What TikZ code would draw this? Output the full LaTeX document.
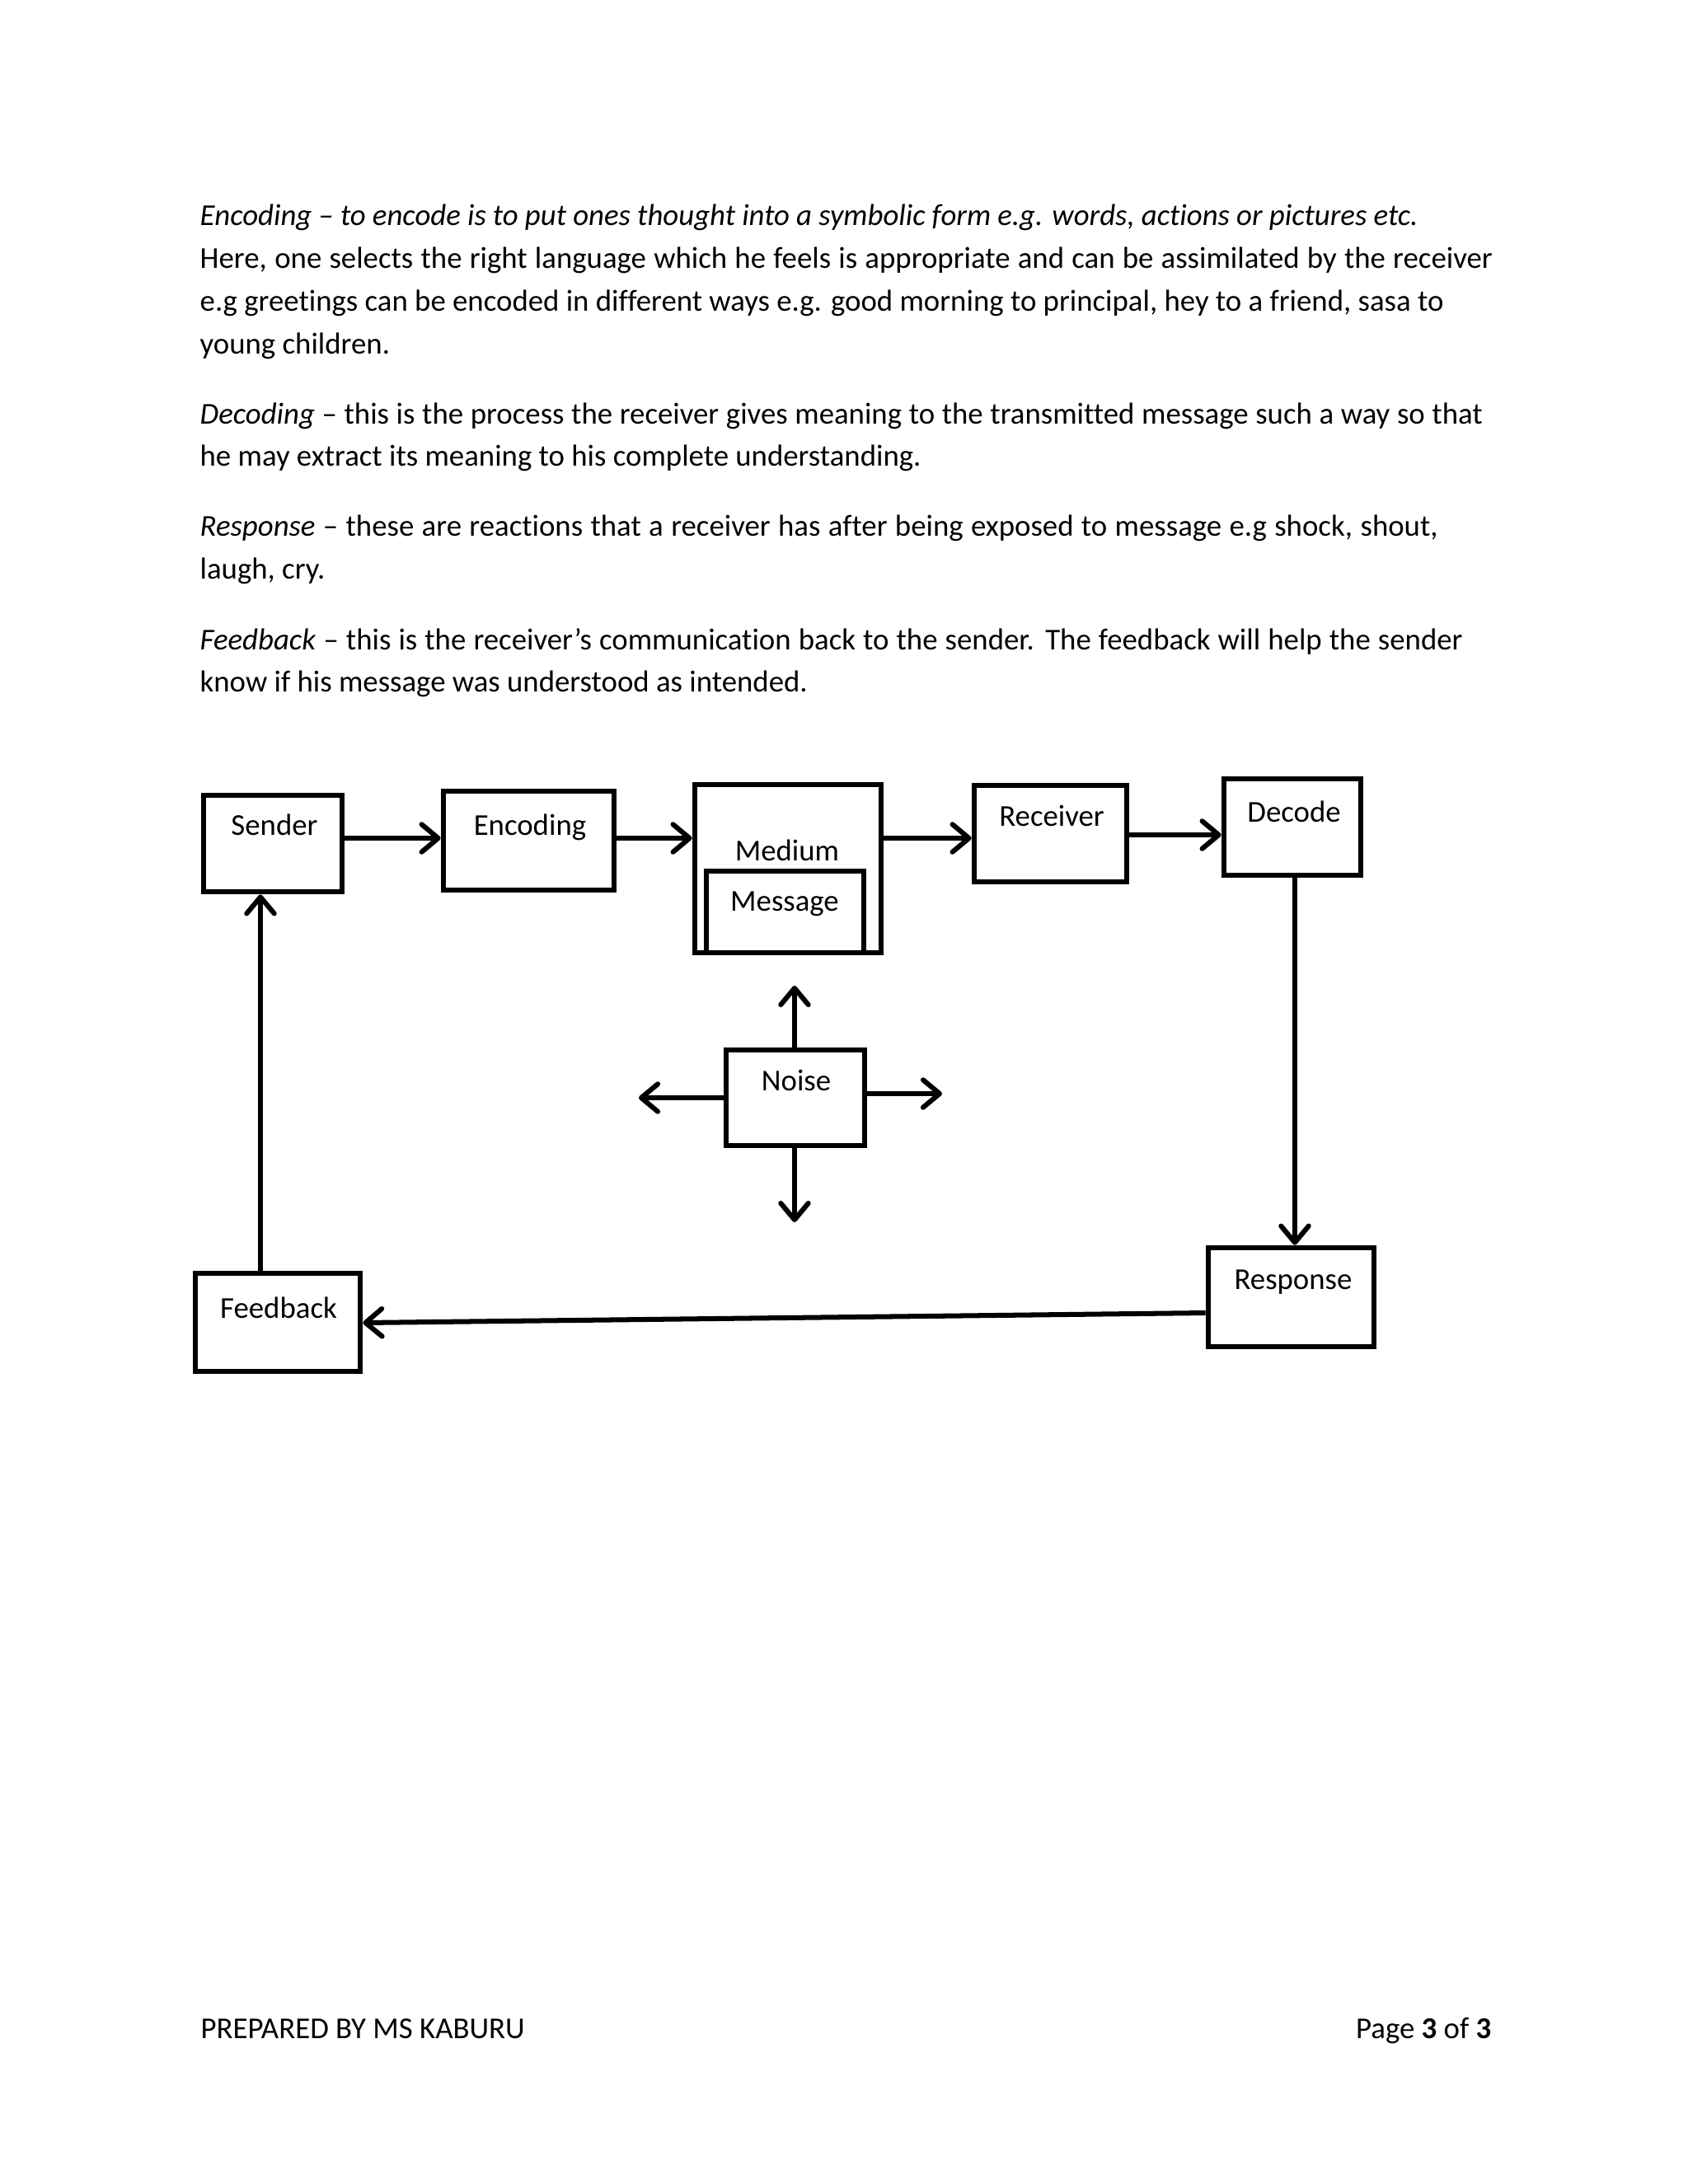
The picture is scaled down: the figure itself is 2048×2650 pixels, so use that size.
\documentclass[tikz,border=0pt]{standalone}
\usepackage{fontspec}
\setmainfont{Carlito}[Ligatures=NoCommon]
\usetikzlibrary{arrows.meta,fit}
\begin{document}
\begin{tikzpicture}[x=0.29883pt,y=-0.29883pt,
  box/.style={draw, line width=2pt, inner sep=0pt, rectangle},
  lbl/.style={anchor=base, inner sep=0pt, font=\fontsize{11}{13}\selectfont},
  para/.style={anchor=base west, inner sep=0pt, font=\fontsize{11}{13}\selectfont},
  arr/.style={line width=1.8pt, -{Straight Barb[length=6pt,width=10pt,round]}}]
\useasboundingbox[fill=white] (0,0) rectangle (2048,2650);

% paragraphs
\node[para] (l1) at (242,273) {\makebox[441.7pt][s]{\itshape Encoding – to encode is  to put ones thought into a symbolic form e.g. words, actions or pictures etc.}};
\node[para] (l2) at (242,325) {\makebox[468.6pt][s]{Here, one selects the right language which he feels is appropriate and can be assimilated by the receiver}};
\node[para] (l3) at (242,377) {\makebox[450.9pt][s]{e.g greetings can be encoded in different ways e.g. good morning to principal, hey to a friend, sasa to}};
\node[para] (l4) at (242,429) {young children.};
\node[para] (l5) at (242,514) {\makebox[465.0pt][s]{\textit{Decoding} – this is the process the receiver gives meaning to the transmitted message such a way so that}};
\node[para] (l6) at (242,565) {he may extract its meaning to his complete understanding.};
\node[para] (l7) at (242,650) {\makebox[448.8pt][s]{\textit{Response} – these are reactions that a  receiver has after being exposed to  message e.g shock, shout,}};
\node[para] (l8) at (242,702) {laugh, cry.};
\node[para] (l9) at (242,788) {\makebox[457.8pt][s]{\textit{Feedback} – this is the receiver’s communication back to the sender. The feedback will help the sender}};
\node[para] (l10) at (242,839) {know if his message was understood as intended.};

% boxes
\node[box, fit={(247,965) (415,1082)}] (sender) {};
\node[box, fit={(538,960) (745,1080)}] (encoding) {};
\node[box, fit={(843,952) (1069,1156)}] (medium) {};
\node[box, fit={(857,1057) (1048,1156)}] (message) {};
\node[box, fit={(1182,953) (1367,1070)}] (receiver) {};
\node[box, fit={(1485,945) (1651,1062)}] (decode) {};
\node[box, fit={(881,1274) (1049,1390)}] (noise) {};
\node[box, fit={(237,1545) (437,1664)}] (feedback) {};
\node[box, fit={(1466,1514) (1667,1634)}] (response) {};

% labels
\node[lbl] (tsender) at (333,1013) {Sender};
\node[lbl] (tencoding) at (643,1013) {Encoding};
\node[lbl] (tmedium) at (955,1044) {Medium};
\node[lbl] (tmessage) at (952,1105) {Message};
\node[lbl] (treceiver) at (1276,1002) {Receiver};
\node[lbl] (tdecode) at (1570,997) {Decode};
\node[lbl] (tnoise) at (966,1323) {Noise};
\node[lbl] (tfeedback) at (338,1599) {Feedback};
\node[lbl] (tresponse) at (1569,1564) {Response};

% helper coordinates
\coordinate (r1) at (0,1017);
\coordinate (r2) at (0,1013);
\coordinate (cdec) at (1571,0);
\coordinate (cfb) at (316,0);
\coordinate (rres) at (0,1593);
\coordinate (rfb) at (0,1605);
\coordinate (nup) at (964,1196);
\coordinate (ndown) at (964,1483);
\coordinate (nleft) at (775,1332);
\coordinate (nright) at (1143,1327);

% connectors
\draw[arr] (sender.east |- r1) -- (encoding.west |- r1);
\draw[arr] (encoding.east |- r1) -- (medium.west |- r1);
\draw[arr] (medium.east |- r1) -- (receiver.west |- r1);
\draw[arr] (receiver.east |- r2) -- (decode.west |- r2);
\draw[arr] (decode.south -| cdec) -- (response.north -| cdec);
\draw[arr] (response.west |- rres) -- (feedback.east |- rfb);
\draw[arr] (feedback.north -| cfb) -- (sender.south -| cfb);
\draw[arr] (noise.north -| nup) -- (nup);
\draw[arr] (noise.south -| ndown) -- (ndown);
\draw[arr] (noise.west |- nleft) -- (nleft);
\draw[arr] (noise.east |- nright) -- (nright);

% footer
\node[para] (foot1) at (243,2473) {PREPARED BY MS KABURU};
\node[para, anchor=base east] (foot2) at (1810,2473) {Page \textbf{3} of \textbf{3}};
\end{tikzpicture}
\end{document}
